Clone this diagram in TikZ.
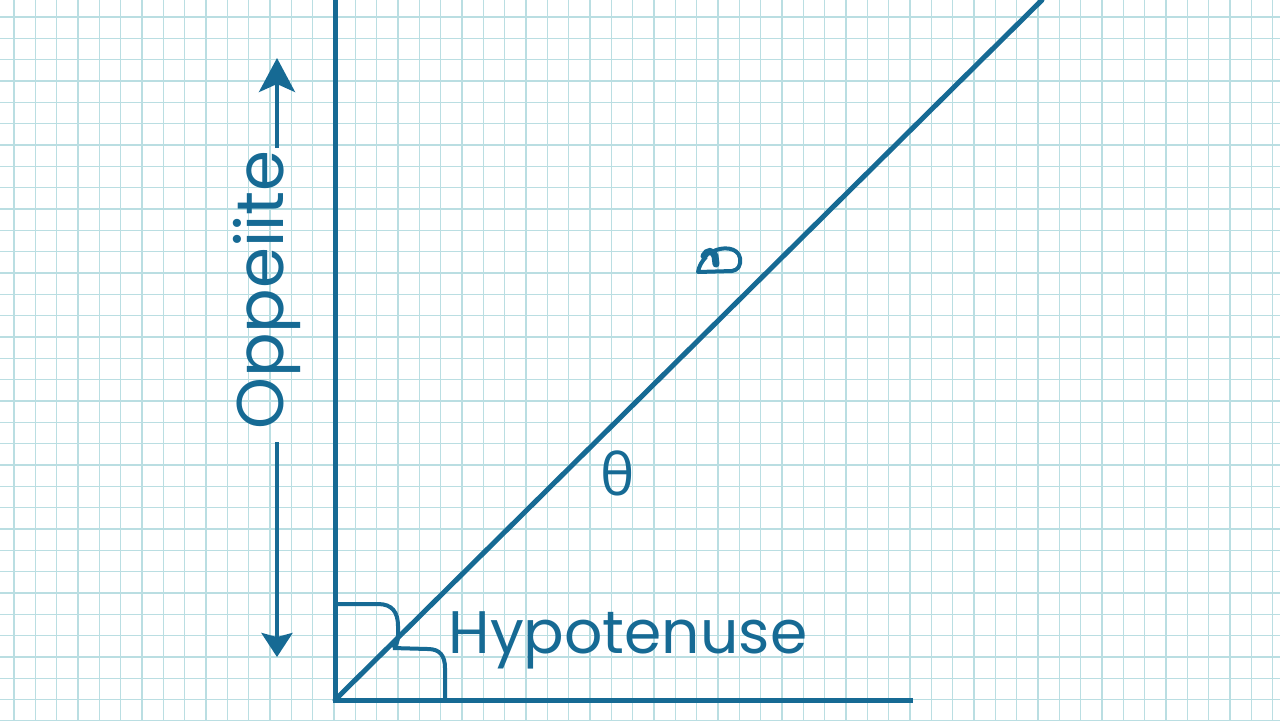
\documentclass[tikz,border=0pt]{standalone}
\usepackage{fontspec}
\setmainfont{Poppins}
\newfontfamily\grk{Open Sans}
\usetikzlibrary{arrows.meta}
\definecolor{ink}{RGB}{22,106,148}
\definecolor{gridc}{RGB}{186,222,226}
\tikzset{
  gridline/.style={draw=gridc, line width=0.6pt},
  mainline/.style={draw=ink, line width=2.5pt},
  markline/.style={draw=ink, line width=2pt},
  arrowline/.style={draw=ink, line width=2pt},
  lbl/.style={text=ink, inner sep=0pt, outer sep=0pt},
}
\begin{document}
\begin{tikzpicture}[x=0.5pt,y=-0.5pt]
\useasboundingbox (0,0) rectangle (1280,720);
\fill[white] (0,0) rectangle (1280,720);
% grid paper
\foreach \k in {0,...,59} \draw[gridline] ({14+21.333*\k},0) -- ({14+21.333*\k},720);
\foreach \k in {-1,...,33} \draw[gridline] (0,{17+21.333*\k}) -- (1280,{17+21.333*\k});
% triangle
\coordinate (O) at (335,700);
\coordinate (T) at (335,0);
\coordinate (R) at (913,700);
\coordinate (H) at (1042,0);
\draw[mainline] (T) -- (O) -- (R);
\draw[mainline, line cap=round] (O) -- (H);
% right-angle marks
\coordinate (m1) at (335,604);
\coordinate (m2) at (393,648);
\coordinate (m3) at (445,700);
\draw[markline] (m1) -- (378,604) .. controls (392,604) and (398,612) .. (398,626)
  -- (398,636) .. controls (398,642) and (396,646) .. (m2);
\draw[markline] (m2) -- (428,649) .. controls (440,649) and (445,656) .. (445,668) -- (m3);
% labels
\node[lbl, anchor=base, rotate=90, font=\fontsize{33}{33}\selectfont] (opp) at (283,290) {Oppeiite};
\node[lbl, anchor=base, font=\fontsize{30}{30}\selectfont] (hyp) at (628,653) {Hypotenuse};
\node[lbl, anchor=base, font=\grk\fontsize{29}{29}\selectfont] (th) at (618,495) {θ};
% opposite arrows
\coordinate (a1s) at (277,148);
\coordinate (a1e) at (277,58);
\coordinate (a2s) at (277,442);
\coordinate (a2e) at (277,657);
\draw[arrowline, -{Stealth[length=17pt,width=18pt,inset=4pt]}] (a1s) -- (a1e);
\draw[arrowline, -{Stealth[length=12pt,width=15.5pt,inset=2pt]}] (a2s) -- (a2e);
% odd glyph
\draw[ink, line width=2pt, line join=round] (712,252) .. controls (722,246) and (738,247) .. (740,258)
  .. controls (741,266) and (738,270) .. (732,271) -- (698,272)
  .. controls (699,266) and (702,261) .. (706,257);
\draw[ink, line width=3.5pt, line cap=round] (704,256) .. controls (707,250) and (713,250) .. (715,256) -- (716,264);
\end{tikzpicture}
\end{document}
